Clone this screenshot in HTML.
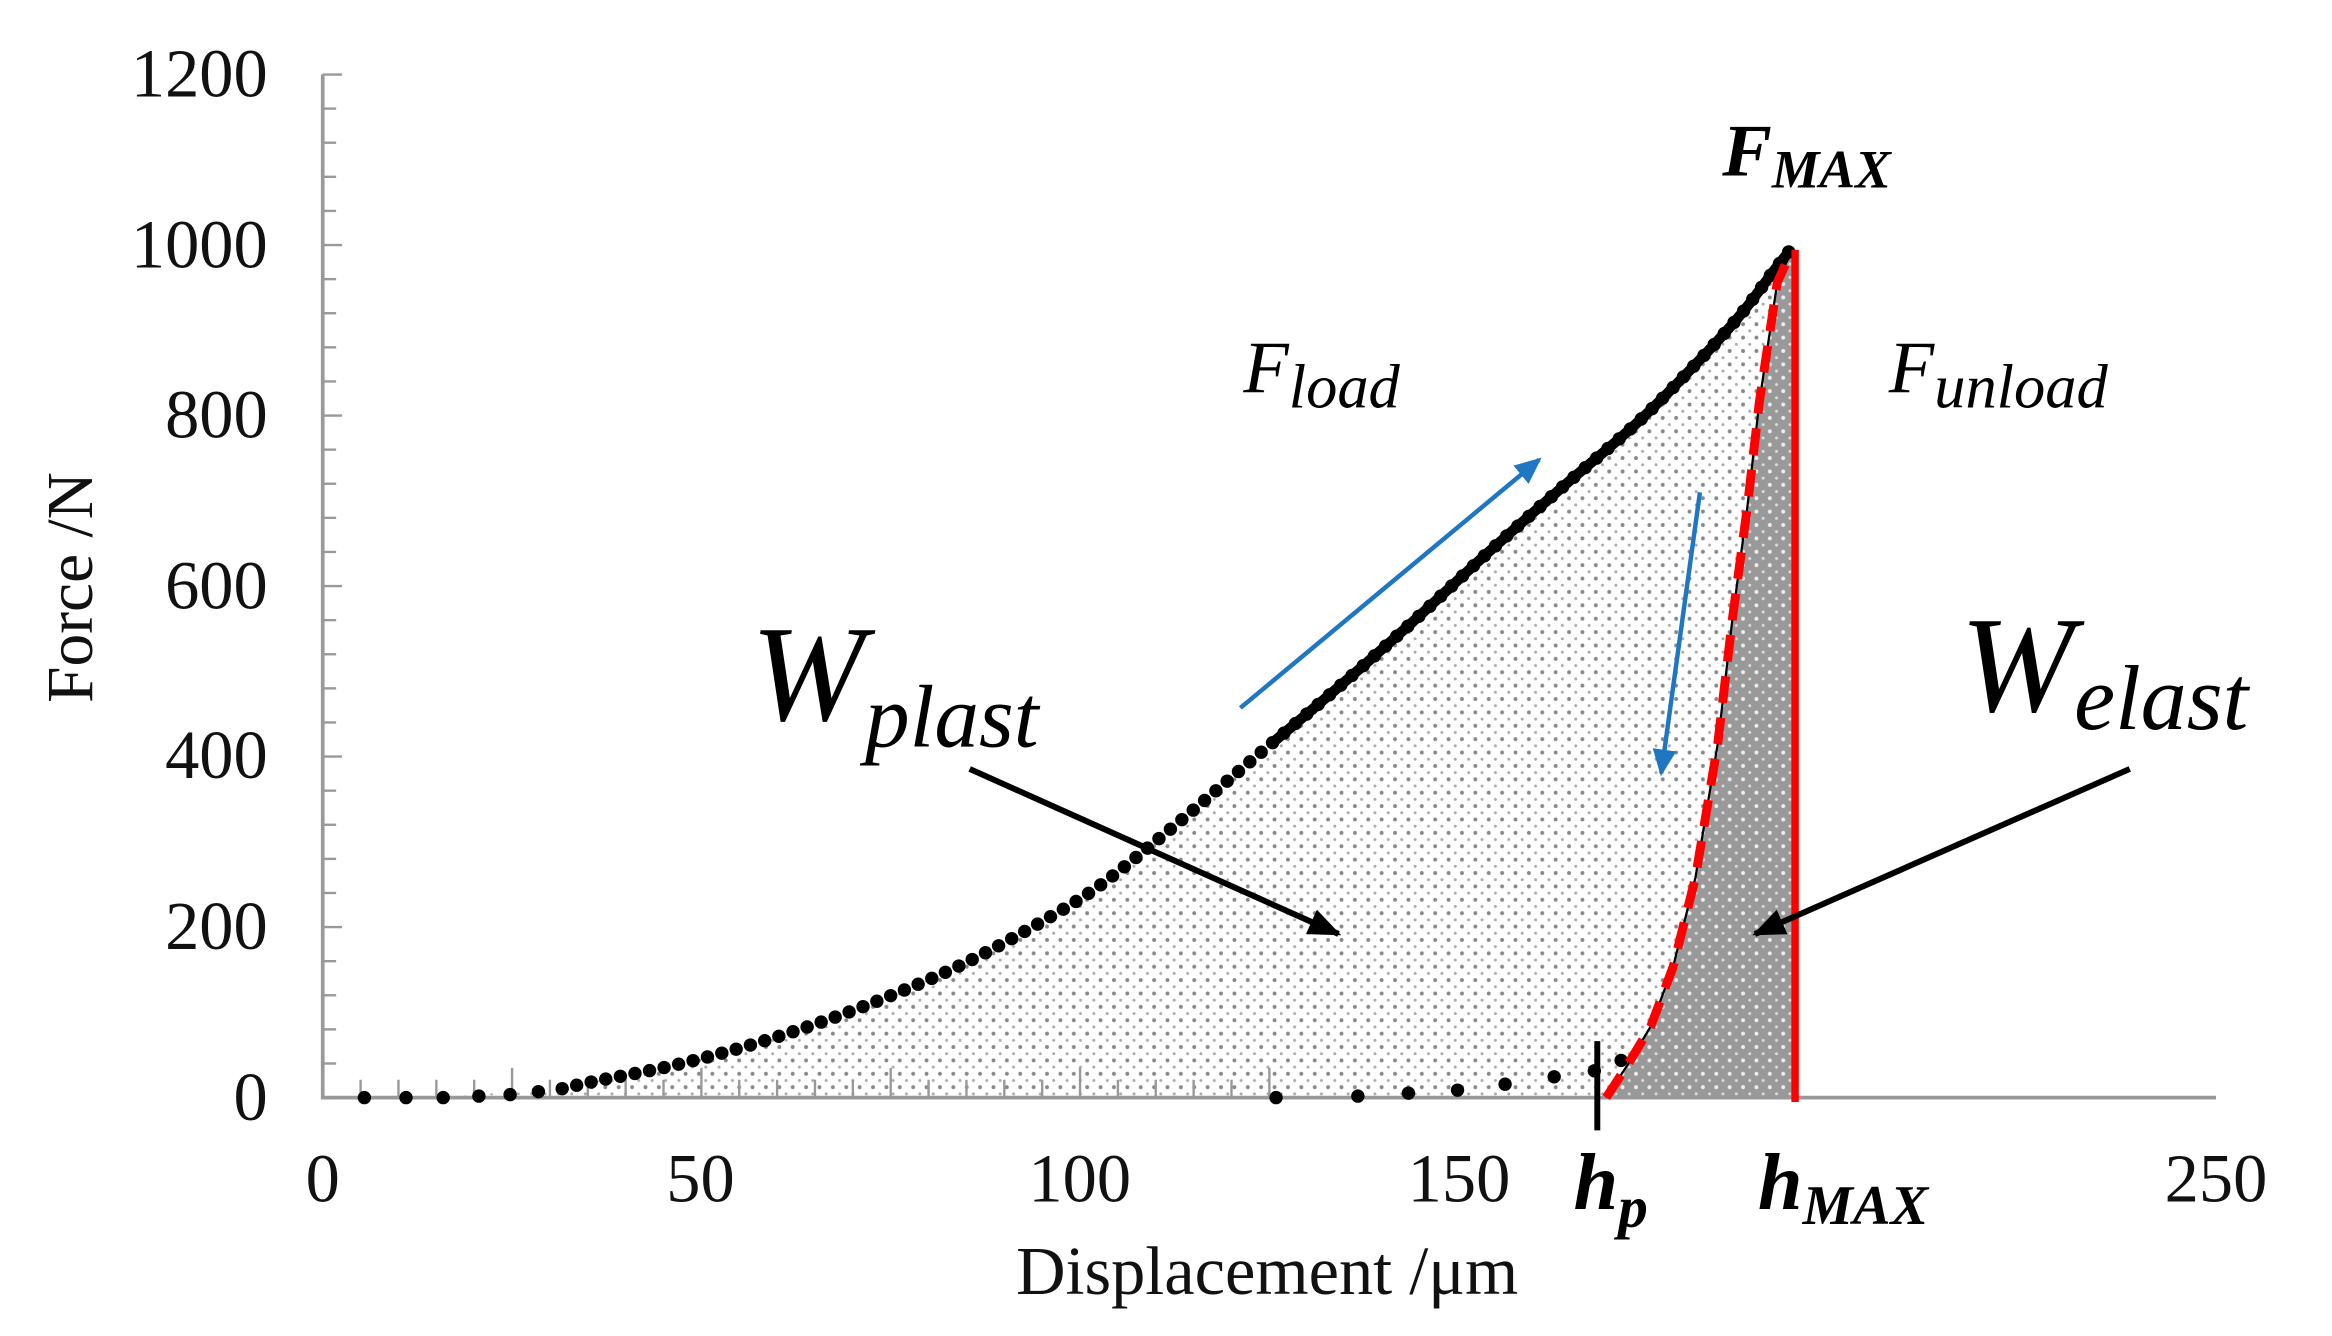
<!DOCTYPE html>
<html><head><meta charset="utf-8"><style>
html,body{margin:0;padding:0;background:#fff;}
svg{display:block;}
text{font-family:"Liberation Serif","DejaVu Serif",serif;}
</style></head><body>
<svg id="s" width="2332" height="1336" viewBox="0 0 1568 898.3" preserveAspectRatio="none" xmlns="http://www.w3.org/2000/svg">
<defs>
<pattern id="lp" width="9" height="9" patternUnits="userSpaceOnUse">
<rect width="9" height="9" fill="#fff"/>
<circle cx="2" cy="2" r="1.3" fill="#888"/><circle cx="6.5" cy="6.5" r="1" fill="#aaa"/>
</pattern>
<pattern id="dp" width="9" height="9" patternUnits="userSpaceOnUse">
<rect width="9" height="9" fill="#999"/>
<circle cx="2" cy="2" r="1.3" fill="#eee"/><circle cx="6.5" cy="6.5" r="1" fill="#ddd"/>
</pattern>
<marker id="ab" markerWidth="18" markerHeight="16" refX="16" refY="8" orient="auto" markerUnits="userSpaceOnUse" viewBox="0 0 18 16"><path d="M0,0 L18,8 L0,16 z" fill="#1f77c4"/></marker>
<marker id="ak" markerWidth="22" markerHeight="18" refX="20" refY="9" orient="auto" markerUnits="userSpaceOnUse" viewBox="0 0 22 18"><path d="M0,0 L22,9 L0,18 z" fill="#000"/></marker>
</defs>
<polygon id="fillL" fill="url(#lp)" points=""/>
<polygon fill="url(#dp)" points="1080,738 1095,715 1110,690 1125,650 1140,590 1155,500 1165,415 1175,340 1183,270 1195,190 1204,170 1207,170 1207,738"/>
<g stroke="#999" stroke-width="2.5" fill="none">
<line x1="217" y1="50" x2="217" y2="739"/>
<line x1="216" y1="738" x2="1490" y2="738"/>
</g>
<g id="ticks" stroke="#999" stroke-width="1.6"></g>
<g font-size="46" text-anchor="end" fill="#111">
<text x="180" y="753">0</text><text x="180" y="638">200</text><text x="180" y="523">400</text><text x="180" y="409">600</text><text x="180" y="294">800</text><text x="180" y="180">1000</text><text x="180" y="65">1200</text>
</g>
<g font-size="46" text-anchor="middle" fill="#111">
<text x="217" y="808">0</text><text x="471" y="808">50</text><text x="726" y="808">100</text><text x="981" y="808">150</text><text x="1490" y="808">250</text>
</g>
<text x="852" y="870" font-size="46" text-anchor="middle" fill="#111">Displacement /μm</text>
<text transform="translate(62,395) rotate(-90)" font-size="44" text-anchor="middle" fill="#111">Force /N</text>
<polyline id="upper" fill="none" stroke="#000" stroke-width="7" stroke-linejoin="round" points=""/>
<g id="dots" fill="#000"></g>
<polyline fill="none" stroke="#000" stroke-width="1.5" points="1080,738 1095,715 1110,690 1125,650 1140,590 1155,500 1165,415 1175,340 1183,270 1195,190 1204,170"/>
<polyline fill="none" stroke="#f00" stroke-width="6" stroke-dasharray="18,10" points="1080,738 1095,715 1110,690 1125,650 1140,590 1155,500 1165,415 1175,340 1183,270 1195,190 1204,170"/>
<line x1="1207" y1="168" x2="1207" y2="741" stroke="#f00" stroke-width="5"/>
<line x1="1074" y1="700" x2="1074" y2="760" stroke="#000" stroke-width="4"/>
<line x1="834" y1="476" x2="1035" y2="309" stroke="#1f77c4" stroke-width="3" marker-end="url(#ab)"/>
<line x1="1143" y1="331" x2="1117" y2="520" stroke="#1f77c4" stroke-width="3" marker-end="url(#ab)"/>
<line x1="652" y1="517" x2="900" y2="628" stroke="#000" stroke-width="4" marker-end="url(#ak)"/>
<line x1="1432" y1="517" x2="1180" y2="628" stroke="#000" stroke-width="4" marker-end="url(#ak)"/>
<g font-style="italic" fill="#000">
<text x="836" y="264" font-size="50">F<tspan font-size="42" dy="10">load</tspan></text>
<text x="1270" y="264" font-size="50">F<tspan font-size="42" dy="10">unload</tspan></text>
<text x="505" y="484" font-size="92">W<tspan font-size="60" dy="18">plast</tspan></text>
<text x="1318" y="478" font-size="92">W<tspan font-size="62" dy="12">elast</tspan></text>
<g font-weight="bold">
<text x="1158" y="118" font-size="50">F<tspan font-size="36" dy="8">MAX</tspan></text>
<text x="1058" y="813" font-size="54">h<tspan font-size="40" dy="12">p</tspan></text>
<text x="1182" y="813" font-size="54">h<tspan font-size="38" dy="10">MAX</tspan></text>
</g>
</g>
</svg>
<script>
var ns="http://www.w3.org/2000/svg",t=document.getElementById("ticks"),d=document.getElementById("dots");
function L(x1,y1,x2,y2){var l=document.createElementNS(ns,"line");l.setAttribute("x1",x1);l.setAttribute("y1",y1);l.setAttribute("x2",x2);l.setAttribute("y2",y2);t.appendChild(l);}
for(var i=0;i<=30;i++){var y=738-i*22.93;L(217,y,i%5==0?230:226,y);}
for(var i=1;i<=25;i++){var x=217+i*25.46;L(x,738,x,i%5==0?718:726);}
function C(x,y,r){var c=document.createElementNS(ns,"circle");c.setAttribute("cx",x);c.setAttribute("cy",y);c.setAttribute("r",r);d.appendChild(c);}
[[245,738],[273,738],[298,738],[322,737],[343,736],[362,734],[858,738],[913,737],[947,735],[980,733],[1012,729],[1045,724],[1072,720],[1090,713]].forEach(function(p){C(p[0],p[1],4.5);});
var K=[[378,732],[400,727],[450,717],[500,704],[550,688],[600,669],[650,647],[700,620],[740,595],[790,555],[843,510],[900,462],[950,418],[1000,372],[1050,328],[1100,285],[1140,245],[1170,212],[1192,183],[1203,169]];
var P=[];
for(var k=0;k<K.length-1;k++){var p0=K[Math.max(0,k-1)],p1=K[k],p2=K[k+1],p3=K[Math.min(K.length-1,k+2)];
for(var s=0;s<10;s++){var u=s/10,u2=u*u,u3=u2*u;
var x=0.5*((2*p1[0])+(-p0[0]+p2[0])*u+(2*p0[0]-5*p1[0]+4*p2[0]-p3[0])*u2+(-p0[0]+3*p1[0]-3*p2[0]+p3[0])*u3);
var y=0.5*((2*p1[1])+(-p0[1]+p2[1])*u+(2*p0[1]-5*p1[1]+4*p2[1]-p3[1])*u2+(-p0[1]+3*p1[1]-3*p2[1]+p3[1])*u3);
P.push([x,y]);}}
P.push(K[K.length-1]);
var up=P.filter(function(p){return p[0]>=850;}).map(function(p){return p.join(",");}).join(" ");
document.getElementById("upper").setAttribute("points",up);
var fp=[[300,737],[350,734]].concat(P).concat([[1195,190],[1183,270],[1175,340],[1165,415],[1155,500],[1140,590],[1125,650],[1110,690],[1095,715],[1080,738],[300,738]]);
document.getElementById("fillL").setAttribute("points",fp.map(function(p){return p.join(",");}).join(" "));
var step=10,acc=0;C(P[0][0],P[0][1],4.5);
for(var k=1;k<P.length;k++){var dx=P[k][0]-P[k-1][0],dy=P[k][1]-P[k-1][1],len=Math.sqrt(dx*dx+dy*dy),s=step-acc;while(s<=len){C(P[k-1][0]+dx*s/len,P[k-1][1]+dy*s/len,4.5);s+=step;}acc=len-(s-step);}
</script>
</body></html>
